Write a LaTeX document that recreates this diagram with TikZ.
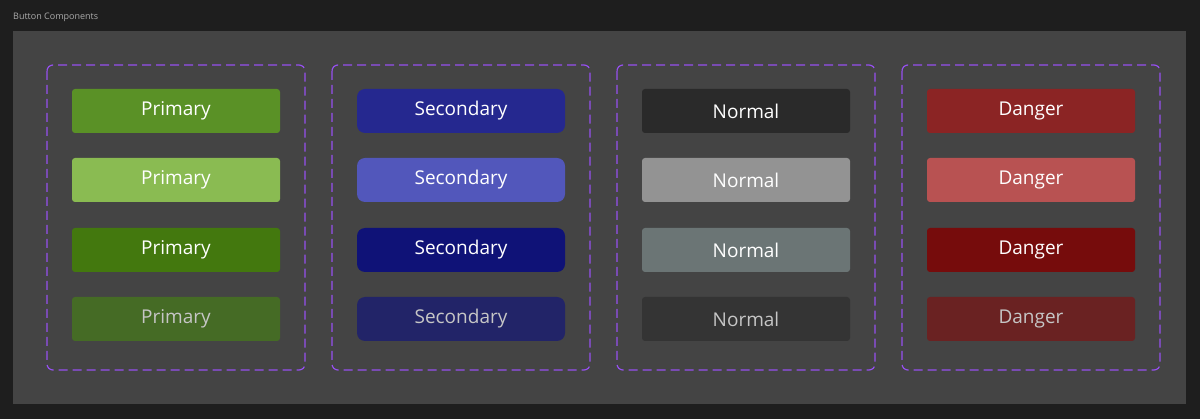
\documentclass[tikz,border=0pt]{standalone}
\usepackage{fontspec}
\setmainfont{Open Sans}
\begin{document}
\begin{tikzpicture}[x=1pt,y=-1pt,
  btn/.style={minimum width=208pt,minimum height=44pt,inner sep=0pt,font=\fontsize{19}{22}\selectfont,text=white},
  grp/.style={draw={rgb,255:red,150;green,80;blue,240},dashed,dash pattern=on 9pt off 5pt,line width=1.2pt,rounded corners=6pt}]
\definecolor{bg}{HTML}{1E1E1E}\definecolor{panel}{HTML}{444444}
\definecolor{p1}{HTML}{5A9126}\definecolor{p2}{HTML}{8ABB52}\definecolor{p3}{HTML}{43780E}\definecolor{p4}{HTML}{456B25}
\definecolor{s1}{HTML}{25288F}\definecolor{s2}{HTML}{5257BB}\definecolor{s3}{HTML}{0F1277}\definecolor{s4}{HTML}{222468}
\definecolor{n1}{HTML}{2A2A2A}\definecolor{n2}{HTML}{939393}\definecolor{n3}{HTML}{6B7575}\definecolor{n4}{HTML}{343434}
\definecolor{d1}{HTML}{8B2424}\definecolor{d2}{HTML}{B85252}\definecolor{d3}{HTML}{760C0C}\definecolor{d4}{HTML}{6A2222}
\fill[bg] (0,0) rectangle (1200,419);
\useasboundingbox (0,0) rectangle (1200,419);
\node[anchor=west,text={rgb,255:red,170;green,170;blue,170},font=\fontsize{9}{10}\selectfont,inner sep=0pt] (title) at (13,17) {Button Components};
\fill[panel] (13,31) rectangle (1186,404);
\foreach \x/\c/\t/\r [count=\i] in {47/p/Primary/3pt,332/s/Secondary/8pt,617/n/Normal/3pt,902/d/Danger/3pt}{
  \draw[grp] (\x,65) rectangle (\x+258,370);
  \foreach \y/\k/\tc in {111/1/white,180/2/white,250/3/white,319/4/{white!55!gray}}{
    \node[btn,fill=\c\k,rounded corners=\r,text=\tc] (b\i\k) at (\x+129,\y) {\t};
  }
}
\end{tikzpicture}
\end{document}
